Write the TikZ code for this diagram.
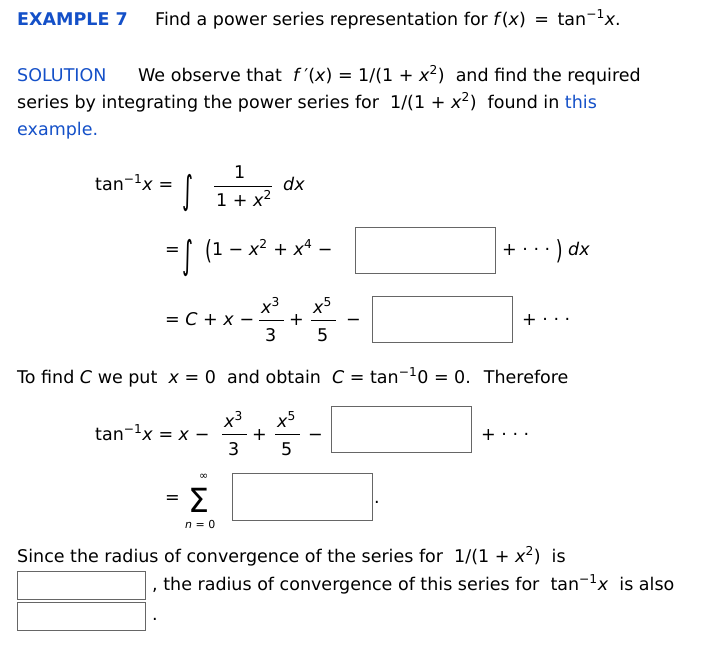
\documentclass[tikz,border=0pt]{standalone}
\usepackage{fontspec}
\usepackage{graphicx}
\setmainfont{DejaVu Sans}
\definecolor{exblue}{RGB}{20,80,200}
\newcommand{\tni}{tan\textsuperscript{−1}}
\newcommand{\vx}{\textit{x}}
\begin{document}
\begin{tikzpicture}[x=1pt,y=-1pt,
  txt/.style={anchor=base west,inner sep=0pt,font=\fontsize{17.5}{20}\selectfont},
  ansbox/.style={draw=black!60,line width=0.6pt,fill=white},
  blue/.style={txt,text=exblue}]
\useasboundingbox (0,0) rectangle (717,657);
\node[blue,font=\fontsize{17.5}{20}\selectfont\bfseries] (ex) at (17,25) {EXAMPLE 7};
\node[txt] (t1) at (155,25) {Find a power series representation for \textit{f}(\vx) \,=\, \tni\vx.};
\node[blue] (sol) at (17,81) {SOLUTION};
\node[txt] (t2) at (138,81) {We observe that \ \textit{f}\,′(\vx) = 1/(1 + \vx\textsuperscript{2}) \ and find the required};
\node[txt] (t3) at (17,108) {series by integrating the power series for \ 1/(1 + \vx\textsuperscript{2}) \ found in \textcolor{exblue}{this}};
\node[blue] (t4) at (17,135) {example.};
% eq1
\node[txt] (e1) at (95,190) {\tni\vx\ =};
\node[txt] (i1) at (182,203) {\scalebox{1.2}[2.2]{∫}};
\node[txt] (n1) at (234,178) {1};
\node[txt] (d1) at (216,206) {1 + \vx\textsuperscript{2}};
\draw (214,186) -- (272,186);
\node[txt] (dx1) at (283,190) {\textit{dx}};
% eq2
\node[txt] (e2) at (165,255) {=};
\node[txt] (i2) at (182,268) {\scalebox{1.2}[2.2]{∫}};
\node[txt] (p2) at (205,255) {\raisebox{-4pt}{\scalebox{1}[1.5]{(}}1 − \vx\textsuperscript{2} + \vx\textsuperscript{4} −};
\node[ansbox,minimum width=140,minimum height=46,anchor=north west] (b1) at (355,227) {};
\node[txt] (r2) at (502,255) {+ · · · \raisebox{-4pt}{\scalebox{1}[1.5]{)}} \textit{dx}};
% eq3
\node[txt] (e3) at (165,325) {= \textit{C} + \vx\ −};
\node[txt] (f3n) at (261,313) {\vx\textsuperscript{3}};
\node[txt] (f3d) at (265,341) {3};
\draw (259,320) -- (284,320);
\node[txt] (pl3) at (289,325) {+};
\node[txt] (f5n) at (313,313) {\vx\textsuperscript{5}};
\node[txt] (f5d) at (317,341) {5};
\draw (311,320) -- (336,320);
\node[txt] (m3) at (346,325) {−};
\node[ansbox,minimum width=140,minimum height=46,anchor=north west] (b2) at (372,296) {};
\node[txt] (r3) at (522,325) {+ · · ·};
% line
\node[txt] (t5) at (17,383) {To find \textit{C} we put \ \vx\ = 0 \ and obtain \ \textit{C} = \tni0 = 0. \ Therefore};
% eq4
\node[txt] (e4) at (95,440) {\tni\vx\ = \vx\ −};
\node[txt] (g3n) at (224,427) {\vx\textsuperscript{3}};
\node[txt] (g3d) at (228,455) {3};
\draw (222,434) -- (247,434);
\node[txt] (pl4) at (252,440) {+};
\node[txt] (g5n) at (277,427) {\vx\textsuperscript{5}};
\node[txt] (g5d) at (281,455) {5};
\draw (275,434) -- (300,434);
\node[txt] (m4) at (308,440) {−};
\node[ansbox,minimum width=140,minimum height=46,anchor=north west] (b3) at (331,406) {};
\node[txt] (r4) at (481,440) {+ · · ·};
% eq5
\node[txt] (e5) at (165,503) {=};
\node[txt,font=\fontsize{11}{12}\selectfont] (inf) at (199,479) {∞};
\node[txt] (sig) at (188,512) {\scalebox{1.9}{Σ}};
\node[txt,font=\fontsize{11}{12}\selectfont] (n0) at (185,528) {\textit{n} = 0};
\node[ansbox,minimum width=140,minimum height=47,anchor=north west] (b4) at (232,473) {};
\node[txt] (dot5) at (374,503) {.};
% final
\node[txt] (t6) at (17,562) {Since the radius of convergence of the series for \ 1/(1 + \vx\textsuperscript{2}) \ is};
\node[ansbox,minimum width=128,minimum height=28,anchor=north west] (b5) at (17,571) {};
\node[txt] (t7) at (152,590) {, the radius of convergence of this series for \ \tni\vx\ \ is also};
\node[ansbox,minimum width=128,minimum height=28,anchor=north west] (b6) at (17,602) {};
\node[txt] (t8) at (152,620) {.};
\end{tikzpicture}
\end{document}
